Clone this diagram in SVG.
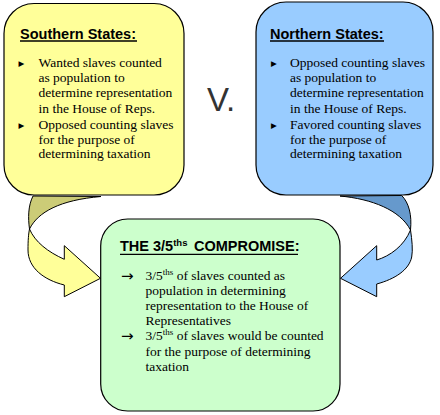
<svg xmlns="http://www.w3.org/2000/svg" width="440" height="415" viewBox="0 0 440 415">
<style>
.box{stroke:#000;stroke-width:1.2}
.arr{stroke:#000;stroke-width:1}
.h{font-family:"Liberation Sans",Arial,sans-serif;font-weight:bold;font-size:14.5px;fill:#000}
.t{font-family:"Liberation Serif","Times New Roman",serif;font-size:13.5px;fill:#000}
.b{font-family:"DejaVu Sans",sans-serif;font-size:7.5px;fill:#000}
.a{font-family:"DejaVu Sans",sans-serif;font-size:15px;fill:#000}
.ul{stroke:#000;stroke-width:1.3}
</style>
<rect width="440" height="415" fill="#fff"/>
<g id="connectors">
  <g id="arrow-south">
    <path class="arr" fill="#CCCC77" d="M33,196 L101,196.5 C60,200 38,212 29.5,229 C28,218 28,206 33,196 Z"/>
    <path class="arr" fill="#FFFF99" d="M29.5,229 C35,242 48,252 64.3,259.3 L64.3,245.7 L100.5,278.3 L64.3,296.7 L64.3,285 C44,280 28,268 28,250 C28,240 28.5,234 29.5,229 Z"/>
  </g>
  <g id="arrow-north">
    <path class="arr" fill="#6699CC" d="M340,196 L401.7,195.5 C409,203 412,215 410.5,230 C400,210 372,199 340,196 Z"/>
    <path class="arr" fill="#99CCFF" d="M410.5,230 C412,240 413,250 411.7,257 C409,270 395,279 376.7,284 L376.7,296.7 L340.5,278.3 L376.7,245.7 L376.7,260 C390,256 404,246 410.5,230 Z"/>
  </g>
</g>
<g id="southern">
  <rect class="box" x="4" y="3.5" width="180" height="191.5" rx="30" fill="#FFFF99"/>
  <text class="h" x="20" y="38.5">Southern States:</text>
  <line class="ul" x1="20" y1="41" x2="137" y2="41"/>
  <text class="b" x="18.5" y="66">▶</text>
  <text class="t" x="38.5" y="66.5">Wanted slaves counted</text>
  <text class="t" x="38.5" y="82">as population to</text>
  <text class="t" x="38.5" y="97.3">determine representation</text>
  <text class="t" x="38.5" y="112.7">in the House of Reps.</text>
  <text class="b" x="18.5" y="128.2">▶</text>
  <text class="t" x="38.5" y="128.7">Opposed counting slaves</text>
  <text class="t" x="38.5" y="143.5">for the purpose of</text>
  <text class="t" x="38.5" y="158.3">determining taxation</text>
</g>
<g id="versus">
  <text x="207" y="110.5" font-family="'Liberation Sans',Arial,sans-serif" font-size="33" fill="#333">V.</text>
</g>
<g id="northern">
  <rect class="box" x="256" y="2" width="177" height="193" rx="30" fill="#99CCFF"/>
  <text class="h" x="270" y="38.5">Northern States:</text>
  <line class="ul" x1="270" y1="41" x2="384" y2="41"/>
  <text class="b" x="271" y="66">▶</text>
  <text class="t" x="290" y="66.5">Opposed counting slaves</text>
  <text class="t" x="290" y="82">as population to</text>
  <text class="t" x="290" y="97.3">determine representation</text>
  <text class="t" x="290" y="112.7">in the House of Reps.</text>
  <text class="b" x="271" y="128.2">▶</text>
  <text class="t" x="290" y="128.7">Favored counting slaves</text>
  <text class="t" x="290" y="143.5">for the purpose of</text>
  <text class="t" x="290" y="158.3">determining taxation</text>
</g>
<g id="compromise">
  <rect class="box" x="100.7" y="219" width="239.3" height="192" rx="27" fill="#CCFFCC"/>
  <text class="h" y="251" font-size="15.2"><tspan x="120">THE 3/5</tspan><tspan font-size="9.5" dy="-5.5">ths</tspan><tspan x="194" dy="5.5">COMPROMISE:</tspan></text>
  <line class="ul" x1="120" y1="254.3" x2="298" y2="254.3"/>
  <text class="a" x="121" y="280.5">→</text>
  <text class="t" x="145.5" y="279.5">3/5<tspan font-size="9" dy="-5">ths</tspan><tspan dy="5"> of slaves counted as</tspan></text>
  <text class="t" x="145.5" y="294.5">population in determining</text>
  <text class="t" x="145.5" y="309.5">representation to the House of</text>
  <text class="t" x="145.5" y="324.5">Representatives</text>
  <text class="a" x="121" y="341.3">→</text>
  <text class="t" x="145.5" y="340.3">3/5<tspan font-size="9" dy="-5">ths</tspan><tspan dy="5"> of slaves would be counted</tspan></text>
  <text class="t" x="145.5" y="355.5">for the purpose of determining</text>
  <text class="t" x="145.5" y="370.5">taxation</text>
</g>
</svg>
